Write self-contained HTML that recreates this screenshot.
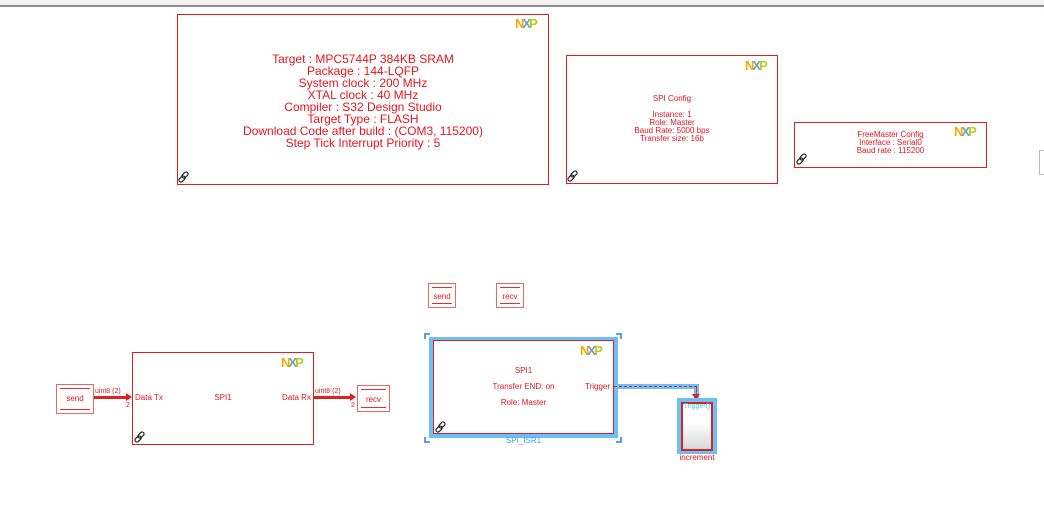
<!DOCTYPE html>
<html><head><meta charset="utf-8"><style>
*{margin:0;padding:0;box-sizing:border-box}
body{width:1044px;height:510px;background:#fff;position:relative;overflow:hidden;font-family:"Liberation Sans",sans-serif;color:#e8141e}
.a{position:absolute}
.b{position:absolute;border:1px solid #e02020;background:#fff}
.t{position:absolute;text-align:center;white-space:nowrap}
.nxp{position:absolute;font-weight:bold;font-size:13px;letter-spacing:-2px;line-height:13px}
.nxp .n{color:#f5a800}.nxp .x{color:#6aa0cc}.nxp .p{color:#b8cc1a}
.lk{position:absolute;width:12px;height:12px}
.blk{position:absolute;border:1px solid #e8686a;background:#fff;font-size:8px;text-align:center}
.blk:before,.blk:after{content:"";position:absolute;left:3px;right:3px;height:1px;background:#e03030}
.blk:before{top:3px}.blk:after{bottom:3px}
</style></head><body>
<svg width="0" height="0" style="position:absolute"><symbol id="L" viewBox="0 0 12 12"><g fill="none" stroke="#222" stroke-width="1.2"><rect x="5" y="0.5" width="4" height="7" rx="2" transform="rotate(45 7 4)"/><rect x="2" y="4.5" width="4" height="7" rx="2" transform="rotate(45 4 8)"/></g></symbol></svg>
<div class="a" style="left:0;top:0;width:1044px;height:5px;background:#f2f2f2"></div>
<div class="a" style="left:0;top:5px;width:1044px;height:2px;background:#8a8a94"></div>
<div class="a" style="left:1039px;top:150px;width:5px;height:25px;border:1px solid #bbb;border-right:none"></div>

<div class="b" style="left:177px;top:14px;width:372px;height:171px"></div>
<div class="nxp" style="left:515px;top:17px"><span class="n">N</span><span class="x">X</span><span class="p">P</span></div>
<div class="t" style="left:177px;width:372px;top:53px;font-size:12px;line-height:12px">Target : MPC5744P 384KB SRAM<br>Package : 144-LQFP<br>System clock : 200 MHz<br>XTAL clock : 40 MHz<br>Compiler : S32 Design Studio<br>Target Type : FLASH<br>Download Code after build : (COM3, 115200)<br>Step Tick Interrupt Priority : 5</div>
<svg class="lk" style="left:178px;top:171px"><use href="#L"/></svg>

<div class="b" style="left:566px;top:55px;width:212px;height:129px"></div>
<div class="nxp" style="left:745px;top:59px"><span class="n">N</span><span class="x">X</span><span class="p">P</span></div>
<div class="t" style="left:566px;width:212px;top:95px;font-size:8px;line-height:8px">SPI Config<br><br>Instance: 1<br>Role: Master<br>Baud Rate: 5000 bps<br>Transfer size: 16b</div>
<svg class="lk" style="left:567px;top:170px"><use href="#L"/></svg>

<div class="b" style="left:794px;top:122px;width:193px;height:46px"></div>
<div class="nxp" style="left:954px;top:125px"><span class="n">N</span><span class="x">X</span><span class="p">P</span></div>
<div class="t" style="left:794px;width:193px;top:131px;font-size:8px;line-height:8px">FreeMaster Config<br>Interface : Serial0<br>Baud rate : 115200</div>
<svg class="lk" style="left:796px;top:153px"><use href="#L"/></svg>

<div class="blk" style="left:428px;top:283px;width:28px;height:25px;line-height:25px">send</div>
<div class="blk" style="left:496px;top:283px;width:28px;height:25px;line-height:25px">recv</div>

<div class="b" style="left:132px;top:352px;width:182px;height:93px"></div>
<div class="nxp" style="left:281px;top:356px"><span class="n">N</span><span class="x">X</span><span class="p">P</span></div>
<div class="t" style="left:135px;top:393px;font-size:8px">Data Tx</div>
<div class="t" style="left:132px;width:182px;top:393px;font-size:8px">SPI1</div>
<div class="t" style="left:282px;top:393px;font-size:8px">Data Rx</div>
<svg class="lk" style="left:134px;top:431px"><use href="#L"/></svg>

<div class="blk" style="left:56px;top:384px;width:38px;height:30px;line-height:28px">send</div>
<div class="a" style="left:94px;top:396px;width:33px;height:3px;background:#e02020"></div>
<div class="a" style="left:126px;top:393px;width:0;height:0;border-left:6px solid #e02020;border-top:4.5px solid transparent;border-bottom:4.5px solid transparent"></div>
<div class="t" style="left:95px;top:388px;font-size:7px">uint8 (2)</div>
<div class="t" style="left:126px;top:402px;font-size:7px">2</div>

<div class="a" style="left:314px;top:396px;width:37px;height:3px;background:#e02020"></div>
<div class="a" style="left:350px;top:393px;width:0;height:0;border-left:6px solid #e02020;border-top:4.5px solid transparent;border-bottom:4.5px solid transparent"></div>
<div class="t" style="left:315px;top:388px;font-size:7px">uint8 (2)</div>
<div class="t" style="left:351px;top:402px;font-size:7px">2</div>
<div class="blk" style="left:357px;top:385px;width:33px;height:27px;line-height:27px">recv</div>

<div class="a" style="left:424px;top:333px;width:6px;height:6px;border-left:2px solid #5a9cf0;border-top:2px solid #5a9cf0"></div>
<div class="a" style="left:616px;top:333px;width:6px;height:6px;border-right:2px solid #5a9cf0;border-top:2px solid #5a9cf0"></div>
<div class="a" style="left:424px;top:437px;width:6px;height:6px;border-left:2px solid #5a9cf0;border-bottom:2px solid #5a9cf0"></div>
<div class="a" style="left:616px;top:437px;width:6px;height:6px;border-right:2px solid #5a9cf0;border-bottom:2px solid #5a9cf0"></div>
<div class="a" style="left:429px;top:337px;width:189px;height:101px;border:4px solid #6cc0f8"></div>
<div class="b" style="left:433px;top:340px;width:181px;height:94px;border:1.5px solid #e02020"></div>
<div class="nxp" style="left:580px;top:344px"><span class="n">N</span><span class="x">X</span><span class="p">P</span></div>
<div class="t" style="left:433px;width:181px;top:366px;font-size:8px">SPI1</div>
<div class="t" style="left:433px;width:181px;top:382px;font-size:8px">Transfer END: on</div>
<div class="t" style="left:433px;width:181px;top:398px;font-size:8px">Role: Master</div>
<div class="t" style="left:585px;top:382px;font-size:8px">Trigger</div>
<svg class="lk" style="left:435px;top:421px"><use href="#L"/></svg>
<div class="t" style="left:433px;width:181px;top:436px;font-size:8px;color:#3aa0e8">SPI_ISR1</div>

<div class="a" style="left:614px;top:384px;width:84px;height:5px;background:#6cc0f8"></div>
<div class="a" style="left:694px;top:384px;width:5px;height:14px;background:#6cc0f8"></div>
<div class="a" style="left:614px;top:386px;width:83px;border-top:1px dashed #e02020"></div>
<div class="a" style="left:696px;top:386px;height:10px;border-left:1px dashed #e02020"></div>
<div class="a" style="left:692px;top:394px;width:0;height:0;border-top:6px solid #e02020;border-left:4px solid transparent;border-right:4px solid transparent"></div>

<div class="a" style="left:677px;top:398px;width:40px;height:56px;background:#6cc0f8"></div>
<div class="a" style="left:681px;top:402px;width:32px;height:49px;border:2px solid #e02020;background:linear-gradient(#fff 40%,#d8d8d8)"></div>
<div class="t" style="left:679px;width:36px;top:403px;font-size:7px;color:#40d0e0">Trigger()</div>
<div class="t" style="left:672px;width:50px;top:453px;font-size:8px;color:#e8141e">increment</div>
</body></html>
